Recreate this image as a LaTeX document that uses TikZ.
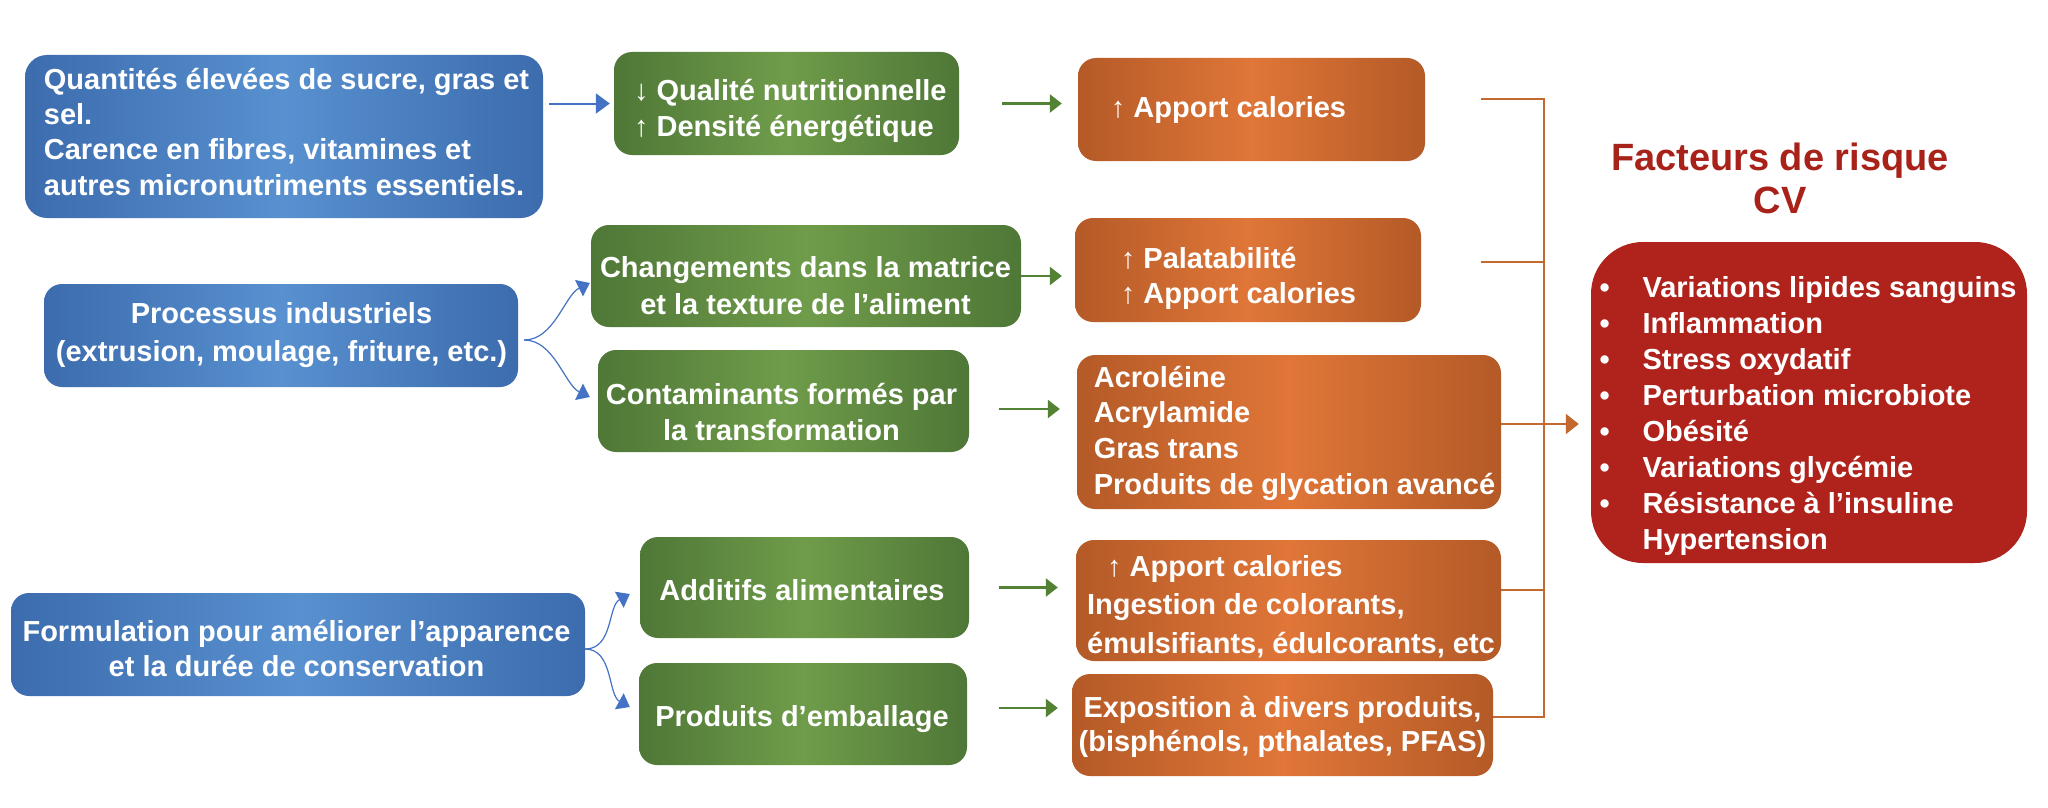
\documentclass[tikz,border=0pt]{standalone}
\usepackage{fontspec}
\setmainfont{Liberation Sans}
\usetikzlibrary{arrows.meta}
\definecolor{bdark}{HTML}{3C6CAD}
\definecolor{blight}{HTML}{5890D0}
\definecolor{gdark}{HTML}{4F7737}
\definecolor{glight}{HTML}{6F9C4A}
\definecolor{odark}{HTML}{B45A27}
\definecolor{olight}{HTML}{E07638}
\definecolor{rbox}{HTML}{B0231C}
\definecolor{rtitle}{HTML}{A8221A}
\definecolor{barrowc}{HTML}{4472C4}
\definecolor{garrowc}{HTML}{548235}
\definecolor{olinec}{HTML}{C2692F}
% #1 column, #2 horizontal offset (half), #3 box centre minus first baseline, #4 lines
\newcommand\tb[4]{\raisebox{#3}[0pt][0pt]{\makebox[0pt]{\hspace*{#2}\hspace*{#2}\begin{tabular}[t]{@{}#1@{}}#4\end{tabular}}}}
\newcommand\arrup{{\mdseries ↑}}
\newcommand\arrdn{{\mdseries ↓}}
\newcommand\blt{\makebox[43pt][l]{•}}
\begin{document}
\begin{tikzpicture}[x=1pt, y=-1pt,
  font=\fontsize{29}{35.7}\selectfont\bfseries,
  box/.style={rounded corners=18pt, inner sep=0pt, text=white, draw=none},
  bbox/.style={box, left color=bdark, right color=bdark, middle color=blight},
  gbox/.style={box, left color=gdark, right color=gdark, middle color=glight},
  obox/.style={box, left color=odark, right color=odark, middle color=olight},
  barrow/.style={draw=barrowc, line width=2pt, -{Triangle[length=14pt,width=20pt]}, barrowc},
  bcurve/.style={draw=barrowc, line width=1.2pt, -{Triangle[length=12pt,width=18pt]}, barrowc},
  garrow/.style={draw=garrowc, line width=2.5pt, -{Triangle[length=12pt,width=18pt]}, garrowc},
  oline/.style={draw=olinec, line width=2pt},
  oarrow/.style={draw=olinec, line width=2pt, -{Triangle[length=13pt,width=20pt]}, olinec}]
\fill[white] (0,0) rectangle (2048,808);
\useasboundingbox (0,0) rectangle (2048,808);
% blue boxes
\node[bbox, rounded corners=22pt, minimum width=518pt, minimum height=163pt] (b1) at (284,136.5)
  {\def\arraystretch{0.99}\tb{l}{2.5pt}{47.5pt}{Quantités élevées de sucre, gras et\\ sel.\\ Carence en fibres, vitamines et\\ autres micronutriments essentiels.}};
\node[bbox, minimum width=474pt, minimum height=103pt] (b2) at (281,335.5)
  {\def\arraystretch{1.08}\tb{c}{0.5pt}{12.5pt}{Processus industriels\\ (extrusion, moulage, friture, etc.)}};
\node[bbox, minimum width=574pt, minimum height=103pt] (b3) at (298,644.5)
  {\tb{c}{-1.5pt}{3.5pt}{Formulation pour améliorer l’apparence\\ et la durée de conservation}};
% green boxes
\node[gbox, minimum width=345pt, minimum height=103pt] (g1) at (786.5,103.5)
  {\def\arraystretch{1.036}\tb{l}{3.8pt}{3.5pt}{\arrdn{} Qualité nutritionnelle\\ \arrup{} Densité énergétique}};
\node[gbox, minimum width=430pt, minimum height=102pt] (g2) at (806,276)
  {\def\arraystretch{1.06}\tb{c}{-0.5pt}{-1pt}{Changements dans la matrice\\ et la texture de l’aliment}};
\node[gbox, minimum width=371pt, minimum height=102pt] (g3) at (783.5,401)
  {\def\arraystretch{1.03}\tb{c}{-2pt}{-3pt}{Contaminants formés par\\ la transformation}};
\node[gbox, minimum width=329pt, minimum height=101pt] (g4) at (804.5,587.5)
  {\tb{c}{-2.5pt}{-12.5pt}{Additifs alimentaires}};
\node[gbox, minimum width=328pt, minimum height=102pt] (g5) at (803,714)
  {\tb{c}{-1pt}{-12pt}{Produits d’emballage}};
% orange boxes
\node[obox, minimum width=347pt, minimum height=103pt] (o1) at (1251.5,109.5)
  {\tb{l}{-23pt}{-8.5pt}{\arrup{} Apport calories}};
\node[obox, minimum width=346pt, minimum height=104pt] (o2) at (1248,270)
  {\tb{l}{-9.5pt}{2pt}{\arrup{} Palatabilité\\ \arrup{} Apport calories}};
\node[obox, minimum width=424pt, minimum height=154pt] (o3) at (1289,432)
  {\tb{l}{5.5pt}{45pt}{Acroléine\\ Acrylamide\\ Gras trans\\ Produits de glycation avancé}};
\node[obox, minimum width=425pt, minimum height=121pt] (o4) at (1288.5,600.5)
  {\def\arraystretch{1.08}\tb{l}{2.5pt}{24.5pt}{\hspace*{20pt}\arrup{} Apport calories\\ Ingestion de colorants,\\ émulsifiants, édulcorants, etc}};
\node[obox, minimum width=421pt, minimum height=102pt] (o5) at (1282.5,725)
  {\def\arraystretch{0.98}\tb{c}{0pt}{8pt}{Exposition à divers produits,\\ (bisphénols, pthalates, PFAS)}};
% title and red box
\node[inner sep=0pt, text=rtitle, font=\fontsize{38}{43}\selectfont\bfseries] (title) at (1780,170)
  {\tb{c}{0pt}{0pt}{Facteurs de risque\\ CV}};
\node[box, rounded corners=52pt, fill=rbox, minimum width=436pt, minimum height=321pt] (r) at (1809,402.5)
  {\def\arraystretch{1.01}\tb{l}{-1pt}{105.5pt}{\blt Variations lipides sanguins\\ \blt Inflammation\\ \blt Stress oxydatif\\ \blt Perturbation microbiote\\ \blt Obésité\\ \blt Variations glycémie\\ \blt Résistance à l’insuline\\ \makebox[43pt]{}Hypertension}};
% blue connectors
\draw[barrow, shorten <=6pt, shorten >=4pt] (b1.east |- g1.west) -- (g1.west);
\draw[bcurve] ([shift={(6,4.5)}]b2.east) .. controls +(30,0) and +(-25,12) .. ([shift={(-1,7)}]g2.west);
\draw[bcurve] ([shift={(6,4.5)}]b2.east) .. controls +(30,0) and +(-25,-12) .. ([shift={(-8,-4)}]g3.west);
\draw[bcurve] ([shift={(0,4.5)}]b3.east) .. controls +(28,0) and +(-22,12) .. ([shift={(-10,6.5)}]g4.west);
\draw[bcurve] ([shift={(0,4.5)}]b3.east) .. controls +(28,0) and +(-22,-12) .. ([shift={(-9,-7)}]g5.west);
% green connectors
\coordinate (a3) at ([shift={(0,8)}]g3.east);
\coordinate (a5) at ([shift={(0,-6)}]g5.east);
\draw[garrow, shorten <=43pt, shorten >=16pt] (g1.east) -- (g1.east -| o1.west);
\draw[garrow, shorten >=13pt] (g2.east) -- (g2.east -| o2.west);
\draw[garrow, shorten <=30pt, shorten >=17pt] (a3) -- (a3 -| o3.west);
\draw[garrow, shorten <=30pt, shorten >=18pt] (g4.east) -- (g4.east -| o4.west);
\draw[garrow, shorten <=32pt, shorten >=14pt] (a5) -- (a5 -| o5.west);
% orange bracket
\coordinate (jt) at (1544,99);
\coordinate (j2) at (1544,262);
\coordinate (jm) at (1544,424);
\coordinate (j4) at (1544,590);
\coordinate (jb) at (1544,717);
\draw[oline, shorten <=56pt] (o1.east |- jt) -- (jt) -- (jb) -- (o5.east |- jb);
\draw[oline, shorten <=60pt] (o2.east |- j2) -- (j2);
\draw[oline] (o4.east |- j4) -- (j4);
\draw[oarrow, shorten >=12pt] (o3.east |- jm) -- (jm -| r.west);
\end{tikzpicture}
\end{document}
